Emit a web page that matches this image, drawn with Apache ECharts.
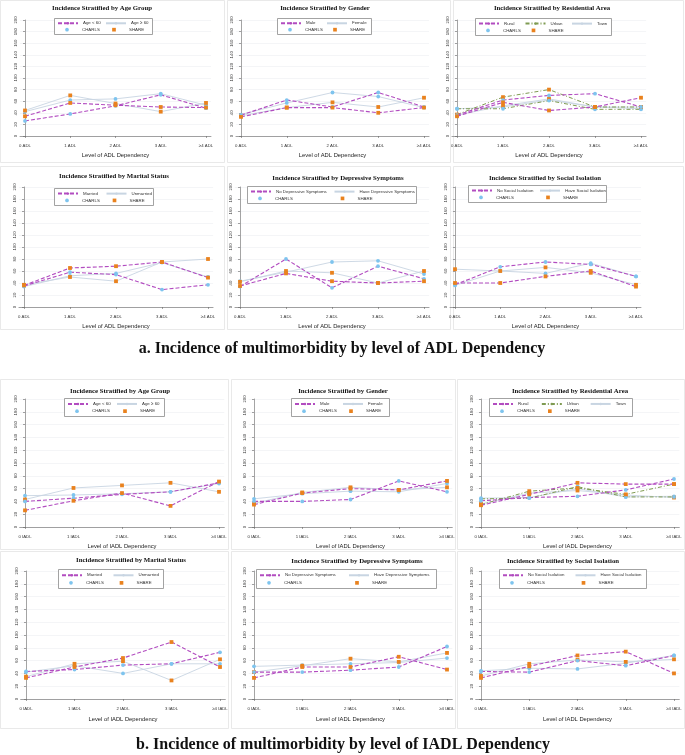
<!DOCTYPE html>
<html><head><meta charset="utf-8">
<script src="https://cdn.jsdelivr.net/npm/echarts@6/dist/echarts.min.js"></script>
<style>html,body{margin:0;padding:0;background:#fff}#c{width:685px;height:755px}</style>
</head><body><div id="c"></div>
<script>
// ---------- categories / ticks ----------
const adlCategories = ['0 ADL', '1 ADL', '2 ADL', '3 ADL', '\u22654 ADL'];
const iadlCategories = ['0 IADL', '1 IADL', '2 IADL', '3 IADL', '\u22654 IADL'];
const yMin = 0, yMax = 200, yStep = 20;

// ---------- ADL panels ----------
const adl_age_lt60_charls = [26, 38, 52, 71, 48];
const adl_age_lt60_share  = [34, 57, 53, 50, 49];
const adl_age_ge60_charls = [42, 62, 64, 73, 53];
const adl_age_ge60_share  = [44, 70, 56, 42, 57];

const adl_gender_male_charls   = [36, 62, 50, 75, 50];
const adl_gender_male_share    = [33, 49, 49, 40, 49];
const adl_gender_female_charls = [37, 57, 75, 68, 49];
const adl_gender_female_share  = [35, 49, 58, 50, 66];

const adl_res_rural_charls = [36, 62, 70, 73, 50];
const adl_res_rural_share  = [34, 58, 44, 50, 66];
const adl_res_urban_charls = [47, 47, 61, 46, 46];
const adl_res_urban_share  = [37, 67, 80, 50, 50];
const adl_res_town_charls  = [47, 50, 62, 50, 47];
const adl_res_town_share   = [36, 52, 64, 50, 50];

const adl_mar_married_charls   = [35, 58, 54, 29, 37];
const adl_mar_married_share    = [36, 65, 68, 75, 49];
const adl_mar_unmarried_charls = [34, 52, 56, 74, 50];
const adl_mar_unmarried_share  = [37, 50, 43, 75, 80];

const adl_dep_no_charls   = [34, 80, 32, 68, 47];
const adl_dep_no_share    = [35, 56, 43, 40, 43];
const adl_dep_have_charls = [43, 58, 75, 77, 55];
const adl_dep_have_share  = [42, 60, 57, 40, 60];

const adl_soc_no_charls   = [37, 67, 75, 71, 51];
const adl_soc_no_share    = [40, 40, 51, 60, 34];
const adl_soc_have_charls = [36, 60, 56, 73, 51];
const adl_soc_have_share  = [63, 60, 66, 57, 37];

// ---------- IADL panels ----------
const iadl_age_lt60_charls = [40, 45, 51, 55, 69];
const iadl_age_lt60_share  = [26, 41, 53, 33, 71];
const iadl_age_ge60_charls = [49, 50, 52, 55, 68];
const iadl_age_ge60_share  = [43, 61, 65, 69, 55];

const iadl_gender_male_charls   = [40, 40, 43, 72, 55];
const iadl_gender_male_share    = [35, 53, 60, 58, 72];
const iadl_gender_female_charls = [44, 52, 56, 55, 68];
const iadl_gender_female_share  = [37, 54, 62, 58, 62];

const iadl_res_rural_charls = [41, 46, 48, 58, 75];
const iadl_res_rural_share  = [34, 51, 69, 67, 67];
const iadl_res_urban_charls = [44, 45, 63, 47, 47];
const iadl_res_urban_share  = [35, 56, 61, 51, 67];
const iadl_res_town_charls  = [45, 46, 60, 47, 48];
const iadl_res_town_share   = [36, 53, 57, 50, 46];

const iadl_mar_married_charls   = [43, 46, 53, 55, 73];
const iadl_mar_married_share    = [33, 50, 64, 89, 50];
const iadl_mar_unmarried_charls = [42, 52, 40, 55, 55];
const iadl_mar_unmarried_share  = [35, 55, 59, 29, 62];

const iadl_dep_no_charls   = [42, 42, 45, 50, 82];
const iadl_dep_no_share    = [33, 50, 50, 66, 46];
const iadl_dep_have_charls = [51, 53, 55, 57, 64];
const iadl_dep_have_share  = [42, 52, 63, 58, 72];

const iadl_soc_no_charls   = [43, 42, 60, 52, 68];
const iadl_soc_no_share    = [33, 51, 68, 74, 40];
const iadl_soc_have_charls = [44, 48, 47, 56, 68];
const iadl_soc_have_share  = [36, 55, 61, 58, 62];

// ---------- labels ----------
const titleAge = 'Incidence Stratified by Age Group';
const titleGender = 'Incidence Stratified by Gender';
const titleRes = 'Incidence Stratified by Residential Area';
const titleMar = 'Incidence Stratified by Marital Status';
const titleDep = 'Incidence Stratified by Depressive Symptoms';
const titleSoc = 'Incidence Stratified by Social Isolation';
const groupsAge = ['Age < 60', 'Age \u2265 60'];
const groupsGender = ['Male', 'Female'];
const groupsRes = ['Rural', 'Urban', 'Town'];
const groupsMar = ['Married', 'Unmarried'];
const groupsDep = ['No Depressive Symptoms', 'Have Depressive Symptoms'];
const groupsSoc = ['No Social Isolation', 'Have Social Isolation'];
const datasetNames = ['CHARLS', 'SHARE'];
const adlAxisName = 'Level of ADL Dependency';
const iadlAxisName = 'Level of IADL Dependency';
const captionA = 'a. Incidence of multimorbidity by level of ADL Dependency';
const captionB = 'b. Incidence of multimorbidity by level of IADL Dependency';

const panels = [
  {title: titleAge, cats: adlCategories, xName: adlAxisName, groups: groupsAge, charls: [adl_age_lt60_charls, adl_age_ge60_charls], share: [adl_age_lt60_share, adl_age_ge60_share]},
  {title: titleGender, cats: adlCategories, xName: adlAxisName, groups: groupsGender, charls: [adl_gender_male_charls, adl_gender_female_charls], share: [adl_gender_male_share, adl_gender_female_share]},
  {title: titleRes, cats: adlCategories, xName: adlAxisName, groups: groupsRes, charls: [adl_res_rural_charls, adl_res_urban_charls, adl_res_town_charls], share: [adl_res_rural_share, adl_res_urban_share, adl_res_town_share]},
  {title: titleMar, cats: adlCategories, xName: adlAxisName, groups: groupsMar, charls: [adl_mar_married_charls, adl_mar_unmarried_charls], share: [adl_mar_married_share, adl_mar_unmarried_share]},
  {title: titleDep, cats: adlCategories, xName: adlAxisName, groups: groupsDep, charls: [adl_dep_no_charls, adl_dep_have_charls], share: [adl_dep_no_share, adl_dep_have_share]},
  {title: titleSoc, cats: adlCategories, xName: adlAxisName, groups: groupsSoc, charls: [adl_soc_no_charls, adl_soc_have_charls], share: [adl_soc_no_share, adl_soc_have_share]},
  {title: titleAge, cats: iadlCategories, xName: iadlAxisName, groups: groupsAge, charls: [iadl_age_lt60_charls, iadl_age_ge60_charls], share: [iadl_age_lt60_share, iadl_age_ge60_share]},
  {title: titleGender, cats: iadlCategories, xName: iadlAxisName, groups: groupsGender, charls: [iadl_gender_male_charls, iadl_gender_female_charls], share: [iadl_gender_male_share, iadl_gender_female_share]},
  {title: titleRes, cats: iadlCategories, xName: iadlAxisName, groups: groupsRes, charls: [iadl_res_rural_charls, iadl_res_urban_charls, iadl_res_town_charls], share: [iadl_res_rural_share, iadl_res_urban_share, iadl_res_town_share]},
  {title: titleMar, cats: iadlCategories, xName: iadlAxisName, groups: groupsMar, charls: [iadl_mar_married_charls, iadl_mar_unmarried_charls], share: [iadl_mar_married_share, iadl_mar_unmarried_share]},
  {title: titleDep, cats: iadlCategories, xName: iadlAxisName, groups: groupsDep, charls: [iadl_dep_no_charls, iadl_dep_have_charls], share: [iadl_dep_no_share, iadl_dep_have_share]},
  {title: titleSoc, cats: iadlCategories, xName: iadlAxisName, groups: groupsSoc, charls: [iadl_soc_no_charls, iadl_soc_have_charls], share: [iadl_soc_no_share, iadl_soc_have_share]}
];

// ---------- layout (pixels) ----------
const layout = [
  {y200: 20,  y0: 136, xc0: 25,  xc4: 206, tx: 102, ty: 8,   box: [54, 18, 98, 16],   gap: 10},
  {y200: 20,  y0: 136, xc0: 241, xc4: 424, tx: 325, ty: 8,   box: [277, 18, 94, 16],  gap: 10},
  {y200: 20,  y0: 136, xc0: 457, xc4: 641, tx: 552, ty: 8,   box: [475, 18, 136, 17], gap: 10},
  {y200: 187, y0: 307, xc0: 24,  xc4: 208, tx: 114, ty: 176, box: [54, 188, 99, 17],  gap: 10},
  {y200: 187, y0: 307, xc0: 240, xc4: 424, tx: 338, ty: 178, box: [247, 186, 169, 17], gap: 10},
  {y200: 187, y0: 307, xc0: 455, xc4: 636, tx: 545, ty: 178, box: [468, 185, 138, 17], gap: 10},
  {y200: 399, y0: 527, xc0: 25,  xc4: 219, tx: 120, ty: 391, box: [64, 398, 100, 18], gap: 10},
  {y200: 399, y0: 527, xc0: 254, xc4: 447, tx: 343, ty: 391, box: [291, 398, 98, 18], gap: 10},
  {y200: 399, y0: 527, xc0: 481, xc4: 674, tx: 570, ty: 391, box: [489, 398, 143, 18], gap: 10},
  {y200: 571, y0: 699, xc0: 26,  xc4: 220, tx: 131, ty: 560, box: [58, 569, 105, 19], gap: 11},
  {y200: 571, y0: 699, xc0: 254, xc4: 447, tx: 357, ty: 561, box: [256, 569, 180, 19], gap: 11},
  {y200: 571, y0: 699, xc0: 481, xc4: 674, tx: 563, ty: 561, box: [499, 569, 147, 19], gap: 11}
];
const frames = [
  [0.5, 0.5, 224, 162], [227.5, 0.5, 223, 162], [453.5, 0.5, 230, 162],
  [0.5, 166.5, 224, 163], [227.5, 166.5, 223, 163], [453.5, 166.5, 230, 163],
  [0.5, 379.5, 228, 170], [231.5, 379.5, 224, 170], [457.5, 379.5, 227, 170],
  [0.5, 551.5, 228, 177], [231.5, 551.5, 224, 177], [457.5, 551.5, 227, 177]
];

const C_CHARLS = '#7ec4ee', C_SHARE = '#e9821e';
const stylePurple = {color: '#b24cc0', width: 1.1, type: [4, 2]};
const styleGray = {color: '#c8d5e2', width: 0.9, type: 'solid'};
const styleGreen = {color: '#7f9b52', width: 1, type: [4, 2, 1, 2]};
const FONT = 'Liberation Sans';
const SERIF = 'Liberation Serif';

const grids = [], xAxes = [], yAxes = [], series = [], legends = [], graphics = [];
const pad = 0.11;

panels.forEach((p, i) => {
  const L = layout[i];
  const u = (L.xc4 - L.xc0) / 4;
  grids.push({left: L.xc0 - pad * u, top: L.y200, width: (L.xc4 - L.xc0) + 2 * pad * u, height: L.y0 - L.y200, outerBoundsMode: 'none', containLabel: false});
  const idx = [0, 1, 2, 3, 4];
  xAxes.push({
    type: 'value', gridIndex: i, min: -pad, max: 4 + pad, offset: 6,
    name: p.xName, nameLocation: 'middle', nameGap: L.gap,
    nameTextStyle: {fontSize: 5.8, fontFamily: FONT, color: '#222'},
    axisLine: {show: true, lineStyle: {color: '#666', width: 0.6}},
    axisTick: {show: true, length: 2, customValues: idx, lineStyle: {color: '#666', width: 0.6}},
    axisLabel: {show: true, customValues: idx, fontSize: 4.3, fontFamily: FONT, color: '#333', margin: 2,
      formatter: (v) => p.cats[Math.round(v)]},
    splitLine: {show: false}
  });
  yAxes.push({
    type: 'value', gridIndex: i, min: yMin, max: yMax, interval: yStep,
    axisLine: {show: true, lineStyle: {color: '#666', width: 0.6}},
    axisTick: {show: true, length: 2, lineStyle: {color: '#666', width: 0.6}},
    axisLabel: {show: true, rotate: 90, fontSize: 4.3, fontFamily: FONT, color: '#333', margin: 2},
    splitLine: {show: true, lineStyle: {color: '#eceff2', width: 0.6}}
  });
  const styles = p.groups.length === 3 ? [stylePurple, styleGreen, styleGray] : [stylePurple, styleGray];
  p.groups.forEach((g, gi) => {
    const ls = styles[gi];
    const zBase = ls === styleGray ? 2 : (ls === styleGreen ? 3 : 4);
    [[p.charls[gi], datasetNames[0], 'circle', C_CHARLS], [p.share[gi], datasetNames[1], 'rect', C_SHARE]].forEach(([vals, ds, sym, col]) => {
      series.push({
        type: 'line', name: g + ' ' + ds, xAxisIndex: i, yAxisIndex: i,
        data: vals.map((v, k) => [k, v]),
        symbol: sym, symbolSize: 3.8, showSymbol: true,
        lineStyle: {color: ls.color, width: ls.width, type: ls.type},
        itemStyle: {color: col, borderWidth: 0},
        emphasis: {disabled: true}, silent: true, animation: false, z: zBase
      });
    });
  });
  // legend key series (carry no data; they only give the legend its keys)
  p.groups.forEach((g, gi) => {
    const ls = styles[gi];
    series.push({type: 'line', name: g, xAxisIndex: i, yAxisIndex: i, data: [], symbol: 'none',
      lineStyle: {color: ls.color, width: ls.width, type: ls.type}, itemStyle: {color: ls.color}, animation: false});
  });
  series.push({type: 'line', name: datasetNames[0], xAxisIndex: i, yAxisIndex: i, data: [], symbol: 'circle',
    lineStyle: {width: 0, opacity: 0}, itemStyle: {color: C_CHARLS, borderWidth: 0}, animation: false});
  series.push({type: 'line', name: datasetNames[1], xAxisIndex: i, yAxisIndex: i, data: [], symbol: 'rect',
    lineStyle: {width: 0, opacity: 0}, itemStyle: {color: C_SHARE, borderWidth: 0}, animation: false});

  const [bx, by, bw, bh] = L.box;
  const n = p.groups.length;
  const colW = n === 3 ? (bw - 4) / 3 + 1.5 : (bw - 4) / 2;
  const tStyle = {fontSize: 4.4, fontFamily: FONT, color: '#333', width: colW - 25, lineHeight: 5};
  legends.push({left: bx + 3, top: by + bh * 0.33 - 2.5, orient: 'horizontal', itemGap: 0, itemWidth: 20, itemHeight: 3,
    padding: 0, selectedMode: false, z: 10, data: p.groups.slice(), textStyle: tStyle});
  legends.push({left: bx + 3, top: by + bh * 0.73 - 2.5, orient: 'horizontal', itemGap: 0, itemWidth: 20, itemHeight: 4.6,
    padding: 0, selectedMode: false, z: 10, data: datasetNames.slice(), textStyle: tStyle});

  graphics.push({type: 'rect', shape: {x: bx + 0.5, y: by + 0.5, width: bw, height: bh}, style: {fill: '#fff', stroke: '#8c8c8c', lineWidth: 0.8}, z: 5, silent: true});
  graphics.push({type: 'text', x: L.tx, y: L.ty, z: 6, silent: true,
    style: {text: p.title, fontSize: 6.8, fontWeight: 'bold', fontFamily: SERIF, fill: '#111', textAlign: 'center', textVerticalAlign: 'middle', align: 'center', verticalAlign: 'middle'}});
});

frames.forEach(f => graphics.push({type: 'rect', shape: {x: f[0], y: f[1], width: f[2], height: f[3]}, style: {fill: 'none', stroke: '#e3e3e3', lineWidth: 0.8}, z: 0, silent: true}));
graphics.push({type: 'text', x: 342, y: 349, z: 6, silent: true,
  style: {text: captionA, fontSize: 16, fontWeight: 'bold', fontFamily: SERIF, fill: '#111', textAlign: 'center', textVerticalAlign: 'middle', align: 'center', verticalAlign: 'middle'}});
graphics.push({type: 'text', x: 343, y: 745, z: 6, silent: true,
  style: {text: captionB, fontSize: 16, fontWeight: 'bold', fontFamily: SERIF, fill: '#111', textAlign: 'center', textVerticalAlign: 'middle', align: 'center', verticalAlign: 'middle'}});

const chart = echarts.init(document.getElementById('c'), null, {renderer: 'canvas', width: 685, height: 755});
chart.setOption({
  backgroundColor: '#ffffff',
  animation: false,
  grid: grids, xAxis: xAxes, yAxis: yAxes, series: series, legend: legends,
  graphic: {elements: graphics}
});
</script></body></html>
